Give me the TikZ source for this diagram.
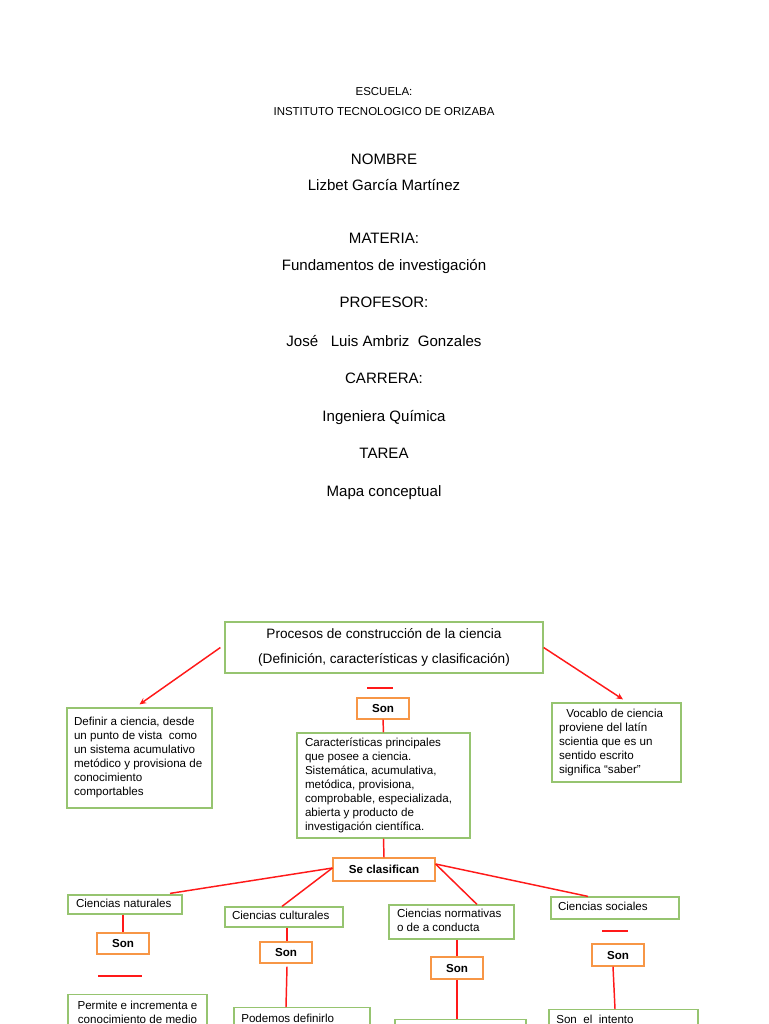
\documentclass[tikz,border=0pt]{standalone}
\usepackage{fontspec}
\setmainfont{Liberation Sans}
\usetikzlibrary{calc,arrows.meta}
\definecolor{boxgreen}{RGB}{150,196,112}
\definecolor{boxorange}{RGB}{247,150,70}
\definecolor{linered}{RGB}{255,25,25}
\newcommand\boxlines[2]{\makebox[#1][l]{\begin{tabular}{@{}l@{}}#2\end{tabular}}}
\begin{document}
\begin{tikzpicture}[x=0.75pt,y=-0.75pt,
  gbox/.style={draw=boxgreen,line width=0.9pt,inner ysep=0pt,font=\fontsize{8.7}{10.5}\selectfont},
  obox/.style={draw=boxorange,line width=0.9pt,inner sep=0pt,font=\fontsize{8.7}{10.5}\selectfont\bfseries},
  link/.style={draw=linered,line width=1.1pt},
  arr/.style={link,-{Stealth[length=5pt,width=4.5pt]}},
  ttl/.style={font=\fontsize{8.6}{10}\selectfont,anchor=base,inner sep=0pt},
  big/.style={font=\fontsize{11.3}{13}\selectfont,anchor=base,inner sep=0pt},
  txt/.style={font=\fontsize{8.7}{10.5}\selectfont,inner sep=0pt}
]
\useasboundingbox (0,0) rectangle (768,1024);
\fill[white] (0,0) rectangle (768,1024);

% title page text
\node[ttl] (t1) at (384,95.5) {ESCUELA:};
\node[ttl] (t2) at (384,115.7) {INSTITUTO TECNOLOGICO DE ORIZABA};
\node[big] (t3) at (384,164.3) {NOMBRE};
\node[big] (t4) at (384,190.7) {Lizbet García Martínez};
\node[big] (t5) at (384,243.3) {MATERIA:};
\node[big] (t6) at (384,270.7) {Fundamentos de investigación};
\node[big] (t7) at (384,307.3) {PROFESOR:};
\node[big] (t8) at (384,346) {José\ \ \ Luis Ambriz\ \ Gonzales};
\node[big] (t9) at (384,383.3) {CARRERA:};
\node[big] (t10) at (384,421) {Ingeniera Química};
\node[big] (t11) at (384,458.3) {TAREA};
\node[big] (t12) at (384,496) {Mapa conceptual};

% concept map
\node[gbox, minimum width=238.5pt, minimum height=38.25pt, align=center,
      font=\fontsize{10.2}{18.75}\selectfont] (main) at (384,647.5)
  {Procesos de construcción de la ciencia\\(Definición, características y clasificación)};

\node[obox, minimum width=39pt, minimum height=15.75pt] (son1) at (383,708.5) {Son};

\node[gbox, minimum width=129.75pt, minimum height=78.75pt, inner xsep=6pt] (chars) at (383.5,785.5)
  {\boxlines{117.75pt}{Características principales\\que posee a ciencia.\\Sistemática, acumulativa,\\metódica, provisiona,\\comprobable, especializada,\\abierta y producto de\\investigación científica.}};

\node[obox, minimum width=76.5pt, minimum height=17.25pt] (secl) at (384,869.5) {Se clasifican};

\node[gbox, minimum width=108.75pt, minimum height=75pt, inner xsep=5.25pt] (def) at (139.5,758)
  {\boxlines{98.25pt}{Definir a ciencia, desde\\un punto de vista\ \ como\\un sistema acumulativo\\metódico y provisiona de\\conocimiento\\comportables}};

\node[gbox, minimum width=96.75pt, minimum height=59.25pt, inner xsep=5.25pt] (voc) at (616.5,742.5)
  {\boxlines{86.25pt}{\hspace*{5.5pt}Vocablo de ciencia\\proviene del latín\\scientia que es un\\sentido escrito\\significa “saber”}};

\node[gbox, minimum width=85.5pt, minimum height=14.25pt, inner xsep=6pt] (nat) at (125,904.5)
  {\boxlines{73.5pt}{Ciencias naturales}};
\node[obox, minimum width=39pt, minimum height=15.75pt] (sonNat) at (123,943.5) {Son};
\node[gbox, minimum width=104.25pt, minimum height=40pt, anchor=north] (perm) at (137.5,994) {};
\node[txt, anchor=north, align=center] (permT) at ($(perm.north)+(0,6.5)$)
  {Permite e incrementa e\\conocimiento de medio};

\node[gbox, minimum width=88.5pt, minimum height=15pt, inner xsep=5.25pt] (cult) at (284,917)
  {\boxlines{78pt}{Ciencias culturales}};
\node[obox, minimum width=39pt, minimum height=15.75pt] (sonCult) at (286,952.5) {Son};
\node[gbox, minimum width=102pt, minimum height=30pt, anchor=north] (pod) at (302,1007) {};
\node[txt, anchor=base west] (podT) at (241,1022) {Podemos definirlo};

\node[gbox, minimum width=93.75pt, minimum height=25.5pt, inner xsep=6pt] (norm) at (451.5,922)
  {\boxlines{81.75pt}{Ciencias normativas\\o de a conducta}};
\node[obox, minimum width=39pt, minimum height=16.5pt] (sonNorm) at (457,968) {Son};
\node[gbox, minimum width=98.25pt, minimum height=25pt, anchor=north] (nbelow) at (460.5,1019) {};

\node[gbox, minimum width=96pt, minimum height=16.5pt, inner xsep=5.25pt] (soc) at (615,908)
  {\boxlines{85.5pt}{Ciencias sociales}};
\node[obox, minimum width=39pt, minimum height=16.5pt] (sonSoc) at (618,955) {Son};
\node[gbox, minimum width=111.75pt, minimum height=30pt, anchor=north] (sbelow) at (623.5,1009) {};
\node[txt, anchor=base west] (sbelowT) at (556,1023) {Son\ \ el\ \ intento};

% short red dashes
\coordinate (d1a) at (367,688); \coordinate (d1b) at (393,688);
\coordinate (d2a) at (98,976);  \coordinate (d2b) at (142,976);
\coordinate (d3a) at (602,931); \coordinate (d3b) at (628,931);
\draw[link] (d1a) -- (d1b);
\draw[link] (d2a) -- (d2b);
\draw[link] (d3a) -- (d3b);

% connectors
\draw[arr] ($(main.west)+(-4,0)$) -- ($(def.north)+(0,-3)$);
\draw[arr] (main.east) -- ($(voc.north)+(6.5,-3)$);
\draw[link] (son1.south) -- (chars.north);
\draw[link] (chars.south) -- (secl.north);
\draw[link] ($(secl.west)+(0,-1.5)$) -- ($(nat.north)+(45,-1)$);
\draw[link] ($(secl.west)+(0,-1.5)$) -- ($(cult.north)+(-2,0)$);
\draw[link] ($(secl.east)+(0,-5.5)$) -- ($(norm.north)+(25.5,0)$);
\draw[link] ($(secl.east)+(0,-5.5)$) -- ($(soc.north)+(-27,0)$);
\draw[link] ($(nat.south)+(-2,0)$) -- (sonNat.north);
\draw[link] ($(cult.south)+(3,0)$) -- ($(sonCult.north)+(1,0)$);
\draw[link] ($(sonCult.south)+(1,3)$) -- ($(pod.north)+(-16,0)$);
\draw[link] ($(norm.south)+(5.5,0)$) -- (sonNorm.north);
\draw[link] (sonNorm.south) -- ($(nbelow.north)+(-3.5,0)$);
\draw[link] ($(sonSoc.south)+(-5,0)$) -- ($(sbelow.north)+(-8.5,0)$);
\end{tikzpicture}
\end{document}
